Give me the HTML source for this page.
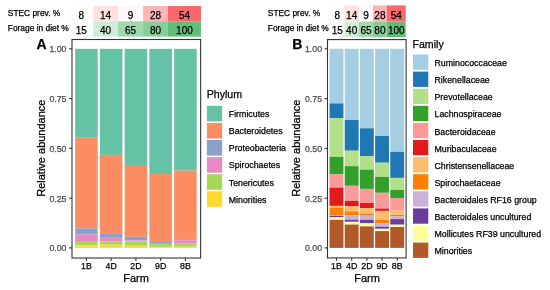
<!DOCTYPE html>
<html><head><meta charset="utf-8"><style>
html,body{margin:0;padding:0;background:#fff;}
svg{display:block;font-family:"Liberation Sans", sans-serif;will-change:transform;}
text{stroke-width:0.25px;}
</style></head><body>
<svg width="550" height="290" viewBox="0 0 550 290">
<rect x="0" y="0" width="550" height="290" fill="#fff"/>
<text x="7.8" y="15.9" font-size="8.4" fill="#000" stroke="#000" text-anchor="start" font-weight="normal" >STEC prev. %</text>
<text x="7.8" y="31" font-size="8.4" fill="#000" stroke="#000" text-anchor="start" font-weight="normal" >Forage in diet %</text>
<rect x="69.1" y="6" width="24.2" height="15.3" fill="#FFFCFC" />
<rect x="69.1" y="21.3" width="24.2" height="15.3" fill="#FCFEFC" />
<text x="81.2" y="18.6" font-size="10" fill="#000" stroke="#000" text-anchor="middle" font-weight="normal" >8</text>
<text x="81.2" y="33.8" font-size="10" fill="#000" stroke="#000" text-anchor="middle" font-weight="normal" >15</text>
<rect x="93.3" y="6" width="24.6" height="15.3" fill="#FEE1E1" />
<rect x="93.3" y="21.3" width="24.6" height="15.3" fill="#D1ECD8" />
<text x="105.6" y="18.6" font-size="10" fill="#000" stroke="#000" text-anchor="middle" font-weight="normal" >14</text>
<text x="105.6" y="33.8" font-size="10" fill="#000" stroke="#000" text-anchor="middle" font-weight="normal" >40</text>
<rect x="117.9" y="6" width="25.2" height="15.3" fill="#FFF8F8" />
<rect x="117.9" y="21.3" width="25.2" height="15.3" fill="#A3D9B1" />
<text x="130.5" y="18.6" font-size="10" fill="#000" stroke="#000" text-anchor="middle" font-weight="normal" >9</text>
<text x="130.5" y="33.8" font-size="10" fill="#000" stroke="#000" text-anchor="middle" font-weight="normal" >65</text>
<rect x="143.1" y="6" width="24.8" height="15.3" fill="#FCB4B5" />
<rect x="143.1" y="21.3" width="24.8" height="15.3" fill="#88CD9A" />
<text x="155.5" y="18.6" font-size="10" fill="#000" stroke="#000" text-anchor="middle" font-weight="normal" >28</text>
<text x="155.5" y="33.8" font-size="10" fill="#000" stroke="#000" text-anchor="middle" font-weight="normal" >80</text>
<rect x="167.9" y="6" width="33.1" height="15.3" fill="#F8696B" />
<rect x="167.9" y="21.3" width="33.1" height="15.3" fill="#63BE7B" />
<text x="184.45" y="18.6" font-size="10" fill="#000" stroke="#000" text-anchor="middle" font-weight="normal" >54</text>
<text x="184.45" y="33.8" font-size="10" fill="#000" stroke="#000" text-anchor="middle" font-weight="normal" >100</text>
<text x="267.8" y="15.9" font-size="8.4" fill="#000" stroke="#000" text-anchor="start" font-weight="normal" >STEC prev. %</text>
<text x="267.8" y="31" font-size="8.4" fill="#000" stroke="#000" text-anchor="start" font-weight="normal" >Forage in diet %</text>
<rect x="330.1" y="5.4" width="14.3" height="16.2" fill="#FFFCFC" />
<rect x="330.1" y="21.6" width="14.3" height="15.6" fill="#FCFEFC" />
<text x="337.25" y="18.8" font-size="10" fill="#000" stroke="#000" text-anchor="middle" font-weight="normal" >8</text>
<text x="337.25" y="34" font-size="10" fill="#000" stroke="#000" text-anchor="middle" font-weight="normal" >15</text>
<rect x="344.4" y="5.4" width="14.5" height="16.2" fill="#FEE1E1" />
<rect x="344.4" y="21.6" width="14.5" height="15.6" fill="#D1ECD8" />
<text x="351.65" y="18.8" font-size="10" fill="#000" stroke="#000" text-anchor="middle" font-weight="normal" >14</text>
<text x="351.65" y="34" font-size="10" fill="#000" stroke="#000" text-anchor="middle" font-weight="normal" >40</text>
<rect x="358.9" y="5.4" width="14.1" height="16.2" fill="#FFF8F8" />
<rect x="358.9" y="21.6" width="14.1" height="15.6" fill="#A3D9B1" />
<text x="365.95" y="18.8" font-size="10" fill="#000" stroke="#000" text-anchor="middle" font-weight="normal" >9</text>
<text x="365.95" y="34" font-size="10" fill="#000" stroke="#000" text-anchor="middle" font-weight="normal" >65</text>
<rect x="373" y="5.4" width="13.8" height="16.2" fill="#FCB4B5" />
<rect x="373" y="21.6" width="13.8" height="15.6" fill="#88CD9A" />
<text x="379.9" y="18.8" font-size="10" fill="#000" stroke="#000" text-anchor="middle" font-weight="normal" >28</text>
<text x="379.9" y="34" font-size="10" fill="#000" stroke="#000" text-anchor="middle" font-weight="normal" >80</text>
<rect x="386.8" y="5.4" width="18.9" height="16.2" fill="#F8696B" />
<rect x="386.8" y="21.6" width="18.9" height="15.6" fill="#63BE7B" />
<text x="396.25" y="18.8" font-size="10" fill="#000" stroke="#000" text-anchor="middle" font-weight="normal" >54</text>
<text x="396.25" y="34" font-size="10" fill="#000" stroke="#000" text-anchor="middle" font-weight="normal" >100</text>
<rect x="75.15" y="48.8" width="22.5" height="88.4" fill="#66C2A5" />
<rect x="75.15" y="137.2" width="22.5" height="91.2" fill="#FC8D62" />
<rect x="75.15" y="228.4" width="22.5" height="6.2" fill="#8DA0CB" />
<rect x="75.15" y="234.6" width="22.5" height="7.3" fill="#E78AC3" />
<rect x="75.15" y="241.9" width="22.5" height="3.4" fill="#A6D854" />
<rect x="75.15" y="245.3" width="22.5" height="2.6" fill="#FFD92F" />
<rect x="99.91" y="48.8" width="22.5" height="106.1" fill="#66C2A5" />
<rect x="99.91" y="154.9" width="22.5" height="78.3" fill="#FC8D62" />
<rect x="99.91" y="233.2" width="22.5" height="4.6" fill="#8DA0CB" />
<rect x="99.91" y="237.8" width="22.5" height="3.7" fill="#E78AC3" />
<rect x="99.91" y="241.5" width="22.5" height="3.2" fill="#A6D854" />
<rect x="99.91" y="244.7" width="22.5" height="3.2" fill="#FFD92F" />
<rect x="124.67" y="48.8" width="22.5" height="116.2" fill="#66C2A5" />
<rect x="124.67" y="165" width="22.5" height="71.8" fill="#FC8D62" />
<rect x="124.67" y="236.8" width="22.5" height="3.7" fill="#8DA0CB" />
<rect x="124.67" y="240.5" width="22.5" height="1.1" fill="#E78AC3" />
<rect x="124.67" y="241.6" width="22.5" height="4.2" fill="#A6D854" />
<rect x="124.67" y="245.8" width="22.5" height="2.1" fill="#FFD92F" />
<rect x="149.43" y="48.8" width="22.5" height="125.2" fill="#66C2A5" />
<rect x="149.43" y="174" width="22.5" height="68" fill="#FC8D62" />
<rect x="149.43" y="242" width="22.5" height="1.8" fill="#8DA0CB" />
<rect x="149.43" y="243.8" width="22.5" height="0.3" fill="#E78AC3" />
<rect x="149.43" y="244.1" width="22.5" height="2.7" fill="#A6D854" />
<rect x="149.43" y="246.8" width="22.5" height="1.1" fill="#FFD92F" />
<rect x="174.19" y="48.8" width="22.5" height="121.8" fill="#66C2A5" />
<rect x="174.19" y="170.6" width="22.5" height="68.6" fill="#FC8D62" />
<rect x="174.19" y="239.2" width="22.5" height="1" fill="#8DA0CB" />
<rect x="174.19" y="240.2" width="22.5" height="3" fill="#E78AC3" />
<rect x="174.19" y="243.2" width="22.5" height="3.5" fill="#A6D854" />
<rect x="174.19" y="246.7" width="22.5" height="1.2" fill="#FFD92F" />
<rect x="72" y="39.5" width="128.65" height="218.5" fill="none" stroke="#333333" stroke-width="1.1"/>
<line x1="69.1" y1="247.9" x2="72" y2="247.9" stroke="#333333" stroke-width="1.1"/>
<text x="66.5" y="251.4" font-size="8.8" fill="#4D4D4D" stroke="#4D4D4D" text-anchor="end" font-weight="normal" >0.00</text>
<line x1="69.1" y1="198.12" x2="72" y2="198.12" stroke="#333333" stroke-width="1.1"/>
<text x="66.5" y="201.62" font-size="8.8" fill="#4D4D4D" stroke="#4D4D4D" text-anchor="end" font-weight="normal" >0.25</text>
<line x1="69.1" y1="148.35" x2="72" y2="148.35" stroke="#333333" stroke-width="1.1"/>
<text x="66.5" y="151.85" font-size="8.8" fill="#4D4D4D" stroke="#4D4D4D" text-anchor="end" font-weight="normal" >0.50</text>
<line x1="69.1" y1="98.57" x2="72" y2="98.57" stroke="#333333" stroke-width="1.1"/>
<text x="66.5" y="102.07" font-size="8.8" fill="#4D4D4D" stroke="#4D4D4D" text-anchor="end" font-weight="normal" >0.75</text>
<line x1="69.1" y1="48.8" x2="72" y2="48.8" stroke="#333333" stroke-width="1.1"/>
<text x="66.5" y="52.3" font-size="8.8" fill="#4D4D4D" stroke="#4D4D4D" text-anchor="end" font-weight="normal" >1.00</text>
<line x1="86.4" y1="258" x2="86.4" y2="260.9" stroke="#333333" stroke-width="1.1"/>
<text x="86.4" y="269.1" font-size="8.8" fill="#000000" stroke="#000000" text-anchor="middle" font-weight="normal" >1B</text>
<line x1="111.16" y1="258" x2="111.16" y2="260.9" stroke="#333333" stroke-width="1.1"/>
<text x="111.16" y="269.1" font-size="8.8" fill="#000000" stroke="#000000" text-anchor="middle" font-weight="normal" >4D</text>
<line x1="135.92" y1="258" x2="135.92" y2="260.9" stroke="#333333" stroke-width="1.1"/>
<text x="135.92" y="269.1" font-size="8.8" fill="#000000" stroke="#000000" text-anchor="middle" font-weight="normal" >2D</text>
<line x1="160.68" y1="258" x2="160.68" y2="260.9" stroke="#333333" stroke-width="1.1"/>
<text x="160.68" y="269.1" font-size="8.8" fill="#000000" stroke="#000000" text-anchor="middle" font-weight="normal" >9D</text>
<line x1="185.44" y1="258" x2="185.44" y2="260.9" stroke="#333333" stroke-width="1.1"/>
<text x="185.44" y="269.1" font-size="8.8" fill="#000000" stroke="#000000" text-anchor="middle" font-weight="normal" >8B</text>
<text x="136.02" y="281.8" font-size="11" fill="#000" stroke="#000" text-anchor="middle" font-weight="normal" >Farm</text>
<text x="0" y="0" font-size="11" fill="#000" stroke="#000" text-anchor="middle" transform="translate(44.8,148.15) rotate(-90)">Relative abundance</text>
<text x="36.4" y="48.8" font-size="14" fill="#000" stroke="#000" text-anchor="start" font-weight="bold" >A</text>
<rect x="329.55" y="48.8" width="13.9" height="54.6" fill="#A6CEE3" />
<rect x="329.55" y="103.4" width="13.9" height="14.6" fill="#1F78B4" />
<rect x="329.55" y="118" width="13.9" height="38.8" fill="#B2DF8A" />
<rect x="329.55" y="156.8" width="13.9" height="17.6" fill="#33A02C" />
<rect x="329.55" y="174.4" width="13.9" height="13.2" fill="#FB9A99" />
<rect x="329.55" y="187.6" width="13.9" height="18.3" fill="#E31A1C" />
<rect x="329.55" y="205.9" width="13.9" height="1.8" fill="#FDBF6F" />
<rect x="329.55" y="207.7" width="13.9" height="7.8" fill="#FF7F00" />
<rect x="329.55" y="215.5" width="13.9" height="0.4" fill="#CAB2D6" />
<rect x="329.55" y="215.9" width="13.9" height="1.5" fill="#6A3D9A" />
<rect x="329.55" y="217.4" width="13.9" height="2.4" fill="#FFFF99" />
<rect x="329.55" y="219.8" width="13.9" height="28.1" fill="#B15928" />
<rect x="344.73" y="48.8" width="13.9" height="71.1" fill="#A6CEE3" />
<rect x="344.73" y="119.9" width="13.9" height="30.8" fill="#1F78B4" />
<rect x="344.73" y="150.7" width="13.9" height="15.5" fill="#B2DF8A" />
<rect x="344.73" y="166.2" width="13.9" height="19.6" fill="#33A02C" />
<rect x="344.73" y="185.8" width="13.9" height="15.2" fill="#FB9A99" />
<rect x="344.73" y="201" width="13.9" height="5.4" fill="#E31A1C" />
<rect x="344.73" y="206.4" width="13.9" height="4.9" fill="#FDBF6F" />
<rect x="344.73" y="211.3" width="13.9" height="4.2" fill="#FF7F00" />
<rect x="344.73" y="215.5" width="13.9" height="4.3" fill="#CAB2D6" />
<rect x="344.73" y="219.8" width="13.9" height="2" fill="#6A3D9A" />
<rect x="344.73" y="221.8" width="13.9" height="2.8" fill="#FFFF99" />
<rect x="344.73" y="224.6" width="13.9" height="23.3" fill="#B15928" />
<rect x="359.91" y="48.8" width="13.9" height="79.5" fill="#A6CEE3" />
<rect x="359.91" y="128.3" width="13.9" height="27.9" fill="#1F78B4" />
<rect x="359.91" y="156.2" width="13.9" height="13.4" fill="#B2DF8A" />
<rect x="359.91" y="169.6" width="13.9" height="19.3" fill="#33A02C" />
<rect x="359.91" y="188.9" width="13.9" height="14.1" fill="#FB9A99" />
<rect x="359.91" y="203" width="13.9" height="5.1" fill="#E31A1C" />
<rect x="359.91" y="208.1" width="13.9" height="5.5" fill="#FDBF6F" />
<rect x="359.91" y="213.6" width="13.9" height="2.1" fill="#FF7F00" />
<rect x="359.91" y="215.7" width="13.9" height="4.1" fill="#CAB2D6" />
<rect x="359.91" y="219.8" width="13.9" height="3.5" fill="#6A3D9A" />
<rect x="359.91" y="223.3" width="13.9" height="3.1" fill="#FFFF99" />
<rect x="359.91" y="226.4" width="13.9" height="21.5" fill="#B15928" />
<rect x="375.09" y="48.8" width="13.9" height="87.2" fill="#A6CEE3" />
<rect x="375.09" y="136" width="13.9" height="26.7" fill="#1F78B4" />
<rect x="375.09" y="162.7" width="13.9" height="14.2" fill="#B2DF8A" />
<rect x="375.09" y="176.9" width="13.9" height="15.9" fill="#33A02C" />
<rect x="375.09" y="192.8" width="13.9" height="15.7" fill="#FB9A99" />
<rect x="375.09" y="208.5" width="13.9" height="2.4" fill="#E31A1C" />
<rect x="375.09" y="210.9" width="13.9" height="8.9" fill="#FDBF6F" />
<rect x="375.09" y="219.8" width="13.9" height="3.5" fill="#FF7F00" />
<rect x="375.09" y="223.3" width="13.9" height="3.4" fill="#CAB2D6" />
<rect x="375.09" y="226.7" width="13.9" height="2.1" fill="#6A3D9A" />
<rect x="375.09" y="228.8" width="13.9" height="2.3" fill="#FFFF99" />
<rect x="375.09" y="231.1" width="13.9" height="16.8" fill="#B15928" />
<rect x="390.27" y="48.8" width="13.9" height="103" fill="#A6CEE3" />
<rect x="390.27" y="151.8" width="13.9" height="26.1" fill="#1F78B4" />
<rect x="390.27" y="177.9" width="13.9" height="12" fill="#B2DF8A" />
<rect x="390.27" y="189.9" width="13.9" height="8.1" fill="#33A02C" />
<rect x="390.27" y="198" width="13.9" height="12.2" fill="#FB9A99" />
<rect x="390.27" y="210.2" width="13.9" height="0.2" fill="#E31A1C" />
<rect x="390.27" y="210.4" width="13.9" height="4.6" fill="#FDBF6F" />
<rect x="390.27" y="215" width="13.9" height="1.4" fill="#FF7F00" />
<rect x="390.27" y="216.4" width="13.9" height="2.7" fill="#CAB2D6" />
<rect x="390.27" y="219.1" width="13.9" height="5.6" fill="#6A3D9A" />
<rect x="390.27" y="224.7" width="13.9" height="2.3" fill="#FFFF99" />
<rect x="390.27" y="227" width="13.9" height="20.9" fill="#B15928" />
<rect x="327.5" y="39.6" width="78.6" height="218.3" fill="none" stroke="#333333" stroke-width="1.1"/>
<line x1="324.6" y1="247.9" x2="327.5" y2="247.9" stroke="#333333" stroke-width="1.1"/>
<text x="322.1" y="251.4" font-size="8.8" fill="#4D4D4D" stroke="#4D4D4D" text-anchor="end" font-weight="normal" >0.00</text>
<line x1="324.6" y1="198.12" x2="327.5" y2="198.12" stroke="#333333" stroke-width="1.1"/>
<text x="322.1" y="201.62" font-size="8.8" fill="#4D4D4D" stroke="#4D4D4D" text-anchor="end" font-weight="normal" >0.25</text>
<line x1="324.6" y1="148.35" x2="327.5" y2="148.35" stroke="#333333" stroke-width="1.1"/>
<text x="322.1" y="151.85" font-size="8.8" fill="#4D4D4D" stroke="#4D4D4D" text-anchor="end" font-weight="normal" >0.50</text>
<line x1="324.6" y1="98.57" x2="327.5" y2="98.57" stroke="#333333" stroke-width="1.1"/>
<text x="322.1" y="102.07" font-size="8.8" fill="#4D4D4D" stroke="#4D4D4D" text-anchor="end" font-weight="normal" >0.75</text>
<line x1="324.6" y1="48.8" x2="327.5" y2="48.8" stroke="#333333" stroke-width="1.1"/>
<text x="322.1" y="52.3" font-size="8.8" fill="#4D4D4D" stroke="#4D4D4D" text-anchor="end" font-weight="normal" >1.00</text>
<line x1="336.5" y1="257.9" x2="336.5" y2="260.8" stroke="#333333" stroke-width="1.1"/>
<text x="336.5" y="269.1" font-size="8.8" fill="#000000" stroke="#000000" text-anchor="middle" font-weight="normal" >1B</text>
<line x1="351.68" y1="257.9" x2="351.68" y2="260.8" stroke="#333333" stroke-width="1.1"/>
<text x="351.68" y="269.1" font-size="8.8" fill="#000000" stroke="#000000" text-anchor="middle" font-weight="normal" >4D</text>
<line x1="366.86" y1="257.9" x2="366.86" y2="260.8" stroke="#333333" stroke-width="1.1"/>
<text x="366.86" y="269.1" font-size="8.8" fill="#000000" stroke="#000000" text-anchor="middle" font-weight="normal" >2D</text>
<line x1="382.04" y1="257.9" x2="382.04" y2="260.8" stroke="#333333" stroke-width="1.1"/>
<text x="382.04" y="269.1" font-size="8.8" fill="#000000" stroke="#000000" text-anchor="middle" font-weight="normal" >9D</text>
<line x1="397.22" y1="257.9" x2="397.22" y2="260.8" stroke="#333333" stroke-width="1.1"/>
<text x="397.22" y="269.1" font-size="8.8" fill="#000000" stroke="#000000" text-anchor="middle" font-weight="normal" >8B</text>
<text x="367.1" y="281.8" font-size="11" fill="#000" stroke="#000" text-anchor="middle" font-weight="normal" >Farm</text>
<text x="0" y="0" font-size="11" fill="#000" stroke="#000" text-anchor="middle" transform="translate(300.2,148.15) rotate(-90)">Relative abundance</text>
<text x="292.2" y="48.5" font-size="14" fill="#000" stroke="#000" text-anchor="start" font-weight="bold" >B</text>
<text x="206.7" y="98.3" font-size="10.6" fill="#000" stroke="#000" text-anchor="start" font-weight="normal" >Phylum</text>
<rect x="206.9" y="105.8" width="15.3" height="15.6" fill="#66C2A5" />
<text x="228.8" y="117.1" font-size="8.8" fill="#000" stroke="#000" text-anchor="start" font-weight="normal" >Firmicutes</text>
<rect x="206.9" y="122.9" width="15.3" height="15.6" fill="#FC8D62" />
<text x="228.8" y="134.2" font-size="8.8" fill="#000" stroke="#000" text-anchor="start" font-weight="normal" >Bacteroidetes</text>
<rect x="206.9" y="140" width="15.3" height="15.6" fill="#8DA0CB" />
<text x="228.8" y="151.3" font-size="8.8" fill="#000" stroke="#000" text-anchor="start" font-weight="normal" >Proteobacteria</text>
<rect x="206.9" y="157.1" width="15.3" height="15.6" fill="#E78AC3" />
<text x="228.8" y="168.4" font-size="8.8" fill="#000" stroke="#000" text-anchor="start" font-weight="normal" >Spirochaetes</text>
<rect x="206.9" y="174.2" width="15.3" height="15.6" fill="#A6D854" />
<text x="228.8" y="185.5" font-size="8.8" fill="#000" stroke="#000" text-anchor="start" font-weight="normal" >Tenericutes</text>
<rect x="206.9" y="191.3" width="15.3" height="15.6" fill="#FFD92F" />
<text x="228.8" y="202.6" font-size="8.8" fill="#000" stroke="#000" text-anchor="start" font-weight="normal" >Minorities</text>
<text x="412.5" y="47.5" font-size="10.6" fill="#000" stroke="#000" text-anchor="start" font-weight="normal" >Family</text>
<rect x="413" y="54.5" width="15.3" height="15.3" fill="#A6CEE3" />
<text x="434.5" y="66.1" font-size="8.8" fill="#000" stroke="#000" text-anchor="start" font-weight="normal" >Ruminococcaceae</text>
<rect x="413" y="71.6" width="15.3" height="15.3" fill="#1F78B4" />
<text x="434.5" y="83.2" font-size="8.8" fill="#000" stroke="#000" text-anchor="start" font-weight="normal" >Rikenellaceae</text>
<rect x="413" y="88.7" width="15.3" height="15.3" fill="#B2DF8A" />
<text x="434.5" y="100.3" font-size="8.8" fill="#000" stroke="#000" text-anchor="start" font-weight="normal" >Prevotellaceae</text>
<rect x="413" y="105.8" width="15.3" height="15.3" fill="#33A02C" />
<text x="434.5" y="117.4" font-size="8.8" fill="#000" stroke="#000" text-anchor="start" font-weight="normal" >Lachnospiraceae</text>
<rect x="413" y="122.9" width="15.3" height="15.3" fill="#FB9A99" />
<text x="434.5" y="134.5" font-size="8.8" fill="#000" stroke="#000" text-anchor="start" font-weight="normal" >Bacteroidaceae</text>
<rect x="413" y="140" width="15.3" height="15.3" fill="#E31A1C" />
<text x="434.5" y="151.6" font-size="8.8" fill="#000" stroke="#000" text-anchor="start" font-weight="normal" >Muribaculaceae</text>
<rect x="413" y="157.1" width="15.3" height="15.3" fill="#FDBF6F" />
<text x="434.5" y="168.7" font-size="8.8" fill="#000" stroke="#000" text-anchor="start" font-weight="normal" >Christensenellaceae</text>
<rect x="413" y="174.2" width="15.3" height="15.3" fill="#FF7F00" />
<text x="434.5" y="185.8" font-size="8.8" fill="#000" stroke="#000" text-anchor="start" font-weight="normal" >Spirochaetaceae</text>
<rect x="413" y="191.3" width="15.3" height="15.3" fill="#CAB2D6" />
<text x="434.5" y="202.9" font-size="8.8" fill="#000" stroke="#000" text-anchor="start" font-weight="normal" >Bacteroidales RF16 group</text>
<rect x="413" y="208.4" width="15.3" height="15.3" fill="#6A3D9A" />
<text x="434.5" y="220" font-size="8.8" fill="#000" stroke="#000" text-anchor="start" font-weight="normal" >Bacteroidales uncultured</text>
<rect x="413" y="225.5" width="15.3" height="15.3" fill="#FFFF99" />
<text x="434.5" y="237.1" font-size="8.8" fill="#000" stroke="#000" text-anchor="start" font-weight="normal" >Mollicutes RF39 uncultured</text>
<rect x="413" y="242.6" width="15.3" height="15.3" fill="#B15928" />
<text x="434.5" y="254.2" font-size="8.8" fill="#000" stroke="#000" text-anchor="start" font-weight="normal" >Minorities</text>
</svg>
</body></html>
